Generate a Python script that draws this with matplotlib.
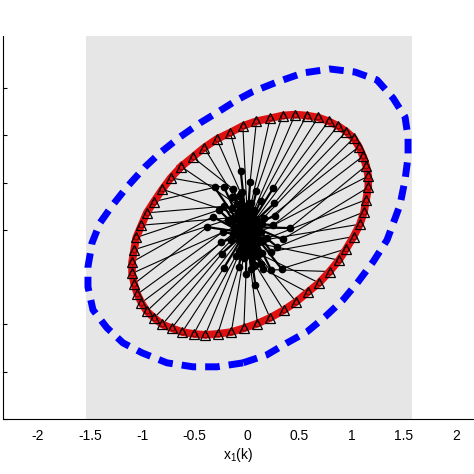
import numpy as np
import matplotlib
matplotlib.use('Agg')
import matplotlib.pyplot as plt

plt.rcParams['font.family'] = ['Liberation Sans', 'DejaVu Sans']

# x-axis tick values / labels
xticks = [-2, -1.5, -1, -0.5, 0, 0.5, 1, 1.5, 2]
xticklabels = ['-2', '-1.5', '-1', '-0.5', '0', '0.5', '1', '1.5', '2']
yticks = [-2, -1.5, -1, 0, 0.5, 1, 1.5]

# shaded region (x range)
shade_x = [-1.54, 1.58]

# initial states on the invariant ellipse (triangles), x100
tx = [-63,-73,-81,-89,-96,-101,-106,-108,-110,-110,-108,-105,-101,-96,-89,-81,-72,-62,-51,-40,-28,-15,-3,10,22,35,47,58,69,79,88,95,102,108,112,114,116,116,114,111,107,102,95,87,78,68,57,46,34,22,9,-4,-16,-29,-41,-52]
ty = [67,55,43,30,18,5,-8,-21,-34,-46,-57,-68,-77,-86,-93,-100,-104,-108,-110,-111,-110,-108,-104,-99,-93,-85,-76,-66,-56,-44,-32,-20,-7,6,19,32,45,57,68,78,88,97,104,110,115,119,121,122,121,118,115,110,103,96,87,77]

# next states (first step), x100
p1x = [-10,-22,-9,-31,-22,-13,-27,-18,-33,-12,-38,-23,-13,-25,-15,-24,-8,-22,-11,-5,-8,-3,-1,1,8,8,6,15,11,23,10,33,23,14,29,19,34,13,41,25,14,27,16,26,9,25,13,6,9,4,3,0,-6,-6,-5,-13]
p1y = [27,45,16,45,25,13,21,11,14,3,3,-2,-4,-13,-11,-25,-11,-40,-28,-18,-39,-26,-47,-18,-58,-37,-21,-41,-25,-42,-14,-41,-23,-11,-18,-9,-10,-2,2,5,6,15,13,28,12,44,31,19,41,28,51,20,62,39,22,43]

# second step, x100
p2x = [7,4,8,3,13,8,7,14,6,11,4,15,8,7,11,4,7,2,7,4,2,2,0,-1,-1,-5,-4,-4,-8,-4,-8,-3,-14,-9,-8,-14,-6,-11,-4,-16,-9,-7,-12,-5,-8,-3,-8,-4,-3,-3,-1,0,1,4,3,4]
p2y = [-38,-16,-28,-10,-36,-20,-15,-24,-9,-13,-4,-11,-4,-1,4,3,9,4,21,15,14,28,14,25,10,40,24,21,36,16,27,9,35,19,15,23,9,13,3,9,2,0,-5,-4,-10,-5,-22,-16,-15,-30,-14,-27,-10,-41,-25,-21]

# outer (blue dashed) set boundary
bx = [-0.038, -0.287, -0.517, -0.766, -1.005, -1.187, -1.340, -1.474, -1.522, -1.522, -1.483, -1.407, -1.292, -1.148, -0.976, -0.833, -0.641, -0.450, -0.278, -0.096, 0.048, 0.287, 0.536, 0.794, 1.033, 1.244, 1.397, 1.512, 1.541, 1.541, 1.512, 1.464, 1.340, 1.206, 1.062, 0.919, 0.746, 0.574, 0.383, 0.191]
by = [-1.406, -1.448, -1.448, -1.406, -1.300, -1.195, -1.036, -0.846, -0.603, -0.391, -0.137, 0.074, 0.254, 0.455, 0.666, 0.814, 0.983, 1.131, 1.247, 1.374, 1.459, 1.564, 1.660, 1.702, 1.670, 1.586, 1.395, 1.195, 0.983, 0.772, 0.529, 0.264, -0.106, -0.338, -0.550, -0.740, -0.920, -1.078, -1.195, -1.321]

TX = np.array(tx) / 100.0
TY = np.array(ty) / 100.0
P1X = np.array(p1x) / 100.0
P1Y = np.array(p1y) / 100.0
P2X = np.array(p2x) / 100.0
P2Y = np.array(p2y) / 100.0

fig = plt.figure(figsize=(4.74, 4.74), dpi=100)
ax = fig.add_axes([3/474, 55/474, 471/474, 383/474])
ax.set_xlim(-2.335, 2.172)
ax.set_ylim(-1.998, 2.051)

ax.axvspan(shade_x[0], shade_x[1], color='#e6e6e6', zorder=2.5, lw=0)

# blue dashed outer set
ax.plot(bx + bx[:1], by + by[:1], color='#0000ff', lw=5,
        dashes=(2.1, 1.3), solid_capstyle='butt', dash_capstyle='butt', zorder=3)

# trajectories: x0 -> x1 -> x2
for i in range(len(TX)):
    ax.plot([TX[i], P1X[i]], [TY[i], P1Y[i]], color='black', lw=0.8, zorder=4)
    ax.plot([P1X[i], P2X[i]], [P1Y[i], P2Y[i]], color='black', lw=1.6, zorder=4)
ax.plot(P1X, P1Y, 'o', color='black', ms=4.5, zorder=4.5, lw=0)
ax.plot(P2X, P2Y, 'o', color='black', ms=4.5, zorder=4.5, lw=0)

# red invariant ellipse
ax.plot(np.append(TX, TX[0]), np.append(TY, TY[0]), color='#e01010', lw=5.5,
        marker='o', ms=3.5, mfc='#e01010', mec='#700000', mew=0.7, zorder=5)

# triangles (initial states)
ax.plot(TX, TY, '^', ms=7.5, mfc='none', mec='black', mew=0.9, zorder=6)

for s in ['top', 'right']:
    ax.spines[s].set_visible(False)
ax.spines['left'].set_linewidth(0.8)
ax.spines['bottom'].set_linewidth(0.8)

ax.set_xticks(xticks)
ax.set_xticklabels(xticklabels, fontsize=10)
ax.tick_params(axis='x', length=0, pad=7)
ax.set_yticks(yticks)
ax.set_yticklabels([])
ax.tick_params(axis='y', direction='in', length=3, width=0.8)
ax.set_xlabel('x$_\\mathregular{1}$(k)', fontsize=10, labelpad=2)

fig.savefig('out.png', dpi=100)
